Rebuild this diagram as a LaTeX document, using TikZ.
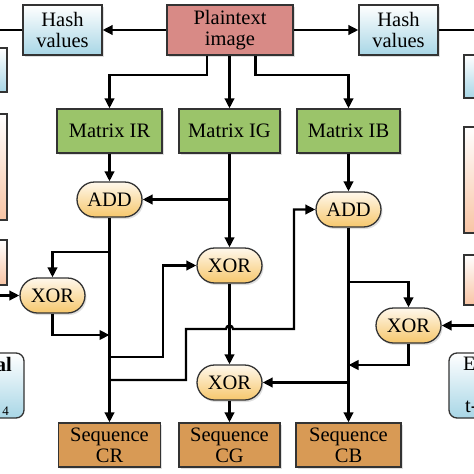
\documentclass[tikz,border=0pt]{standalone}
\usepackage{fontspec}
\setmainfont{Liberation Serif}
\usetikzlibrary{arrows.meta,shadows}
\definecolor{bordergray}{HTML}{333333}
\definecolor{plainred}{HTML}{D88A86}
\definecolor{matgreen}{HTML}{9BC46A}
\definecolor{seqorange}{HTML}{D89A55}
\definecolor{hashblue}{HTML}{A8D6E6}
\definecolor{optop}{HTML}{FFF8EC}
\definecolor{opbottom}{HTML}{F6C76C}
\definecolor{peach}{HTML}{F8C4A4}
\tikzset{
  box/.style={draw=bordergray, line width=1.3pt, inner sep=0pt, align=center,
    font=\fontsize{20.5}{21}\selectfont, text=black,
    drop shadow={opacity=0.25, shadow xshift=1.5pt, shadow yshift=-2pt}},
  hashbox/.style={box, top color=white, bottom color=hashblue, minimum width=79pt, minimum height=50pt},
  plainbox/.style={box, fill=plainred, minimum width=126pt, minimum height=50pt},
  matbox/.style={box, fill=matgreen, minimum height=44pt},
  opbox/.style={box, top color=optop, bottom color=opbottom, rounded corners=17.5pt, minimum width=65pt, minimum height=35pt},
  seqbox/.style={box, fill=seqorange, minimum height=44pt},
  sidebox/.style={draw=bordergray, line width=1.3pt},
  sideblue/.style={sidebox, top color=white, bottom color=hashblue},
  sidepeach/.style={sidebox, top color=white, bottom color=peach},
  lbl/.style={inner sep=0pt, text=black, font=\fontsize{20.5}{21}\selectfont},
  line/.style={line width=2.3pt, draw=black},
  conn/.style={line, -{Triangle[length=10pt,width=9.5pt]}}
}
\begin{document}
\begin{tikzpicture}[x=1pt,y=-1pt]
\useasboundingbox (0,0) rectangle (474,474);
\clip (0,0) rectangle (474,474);
\fill[white] (0,0) rectangle (474,474);
% partial side boxes
\path[sideblue] (-60,48) rectangle (7,92);
\path[sidepeach] (-60,114) rectangle (7,220);
\path[sidepeach] (-60,240) rectangle (7,285);
\path[sideblue, rounded corners=8pt] (-80,353) rectangle (24,418);
\path[sideblue] (464,55) rectangle (540,98);
\path[sidepeach] (464,127) rectangle (540,233);
\path[sidepeach] (464,255) rectangle (540,305);
\path[sideblue, rounded corners=8pt] (449,353) rectangle (560,418);
\node[lbl, anchor=base east, font=\fontsize{20.5}{21}\selectfont\bfseries] (ltxt) at (12,371) {al};
\node[lbl, anchor=base east, font=\fontsize{13}{14}\selectfont] (lsub) at (9,415) {4};
\node[lbl, anchor=base west] (rtxt) at (463,370) {E};
\node[lbl, anchor=base west] (rsub) at (465,412) {t-};
% main nodes
\node[plainbox] (plain) at (230,30) {Plaintext\\image};
\node[hashbox] (hashL) at (62.5,30) {Hash\\values};
\node[hashbox] (hashR) at (398.5,30) {Hash\\values};
\node[matbox, minimum width=105pt] (mIR) at (109.5,131) {Matrix IR};
\node[matbox, minimum width=101pt] (mIG) at (229.5,131) {Matrix IG};
\node[matbox, minimum width=103pt] (mIB) at (348.5,131) {Matrix IB};
\node[opbox] (add1) at (109.5,199.5) {ADD};
\node[opbox] (xorG1) at (229.5,265.5) {XOR};
\node[opbox] (add2) at (348.5,209.5) {ADD};
\node[opbox] (xorL) at (52.5,295.5) {XOR};
\node[opbox] (xorR) at (408.5,325.5) {XOR};
\node[opbox] (xorG2) at (229.5,382.5) {XOR};
\node[seqbox, minimum width=102pt] (sCR) at (109.5,445) {Sequence\\CR};
\node[seqbox, minimum width=101pt] (sCG) at (229.5,445) {Sequence\\CG};
\node[seqbox, minimum width=105pt] (sCB) at (348.5,445) {Sequence\\CB};
\coordinate (edgeHL) at (-5,30);
\coordinate (edgeHR) at (480,30);
\coordinate (inL) at (-5,295.5);
\coordinate (inR) at (480,325.5);
% connectors
\draw[conn] (plain.west) -- (hashL.east);
\draw[conn] (plain.east) -- (hashR.west);
\draw[line] (hashL.west) -- (edgeHL);
\draw[line] (hashR.east) -- (edgeHR);
\draw[conn] ([xshift=-23pt]plain.south) -- ++(0,19) -| (mIR.north);
\draw[conn] (plain.south -| mIG.north) -- (mIG.north);
\draw[conn] ([xshift=25.5pt]plain.south) -- ++(0,19) -| (mIB.north);
\draw[conn] (mIR.south) -- (add1.north);
\draw[conn] (mIB.south) -- (add2.north);
\draw[conn] (mIG.south) -- (xorG1.north);
\draw[conn] (mIG.south |- add1.east) -- (add1.east);
\draw[conn] (add1.south) -- (sCR.north);
\draw[conn] (add1.south |- 0,252) -| (xorL.north);
\draw[conn] (inL) -- (xorL.west);
\draw[conn] (xorL.south) |- (add1.south |- 0,335);
\draw[conn] (add1.south |- 0,357) -- (163,357) |- (xorG1.west);
\draw[conn] (add1.south |- 0,380) -- (186,380) -- (186,329) -- (226,329)
  arc[start angle=180, end angle=360, radius=3.5] -- (294,329) |- (add2.west);
\draw[conn] (xorG1.south) -- (xorG2.north);
\draw[conn] (xorG2.south) -- (sCG.north);
\draw[conn] (add2.south) -- (sCB.north);
\draw[conn] (add2.south |- 0,282) -| (xorR.north);
\draw[conn] (inR) -- (xorR.east);
\draw[conn] (xorR.south) |- (add2.south |- 0,365);
\draw[conn] (add2.south |- xorG2.east) -- (xorG2.east);
\end{tikzpicture}
\end{document}
